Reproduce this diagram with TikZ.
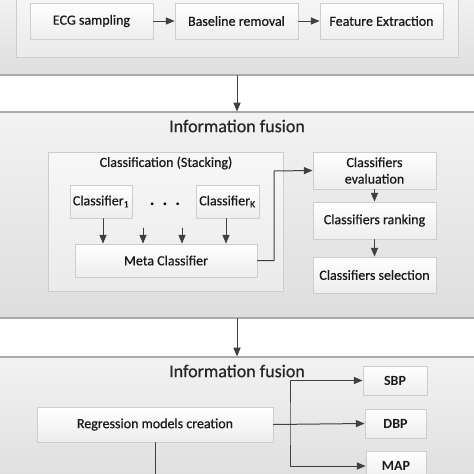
\documentclass[tikz,border=0pt]{standalone}
\usepackage{fontspec}
\setmainfont{Carlito}
\newfontfamily\heavyfont{Carlito}[FakeBold=0.6]
\usetikzlibrary{arrows}
\definecolor{edge}{RGB}{64,64,64}
\definecolor{rim}{RGB}{170,170,170}
\definecolor{boxrim}{RGB}{205,205,205}

\tikzset{
  panel/.style={draw=rim, line width=1.2pt, top color=black!5, bottom color=black!13, inner sep=0pt},
  subpanel/.style={draw=boxrim, line width=1pt, top color=black!3, bottom color=black!8, inner sep=0pt},
  procbox/.style={draw=boxrim, line width=1pt, top color=white, bottom color=black!7, inner sep=0pt,
    align=center, text=black!90, font=\fontsize{14}{16.5}\heavyfont},
  boxtext/.style={font=\fontsize{14}{16.5}\heavyfont, text=black!90, inner sep=0pt},
  titletext/.style={font=\fontsize{18}{20}\heavyfont, text=black!85},
  flow/.style={->, draw=edge, line width=1pt}
}

\begin{document}
\begin{tikzpicture}[line cap=round,line join=round,>=triangle 45,x=1pt,y=-1pt]
    \useasboundingbox (0,0) rectangle (474,474);
    \clip (0,0) rectangle (474,474);
    \fill[white] (0,0) rectangle (474,474);
    % preprocessing
    \node[panel, minimum width=480, minimum height=80] (prep) at (237,35) {};
    \node[subpanel, minimum width=442, minimum height=66] (prepin) at (237,24) {};
    \node[procbox, minimum width=123, minimum height=36] (ecg) at (91.5,21) {ECG sampling};
    \node[procbox, minimum width=123, minimum height=36] (base) at (236.5,21) {Baseline removal};
    \node[procbox, minimum width=123, minimum height=36] (feat) at (381.5,21) {Feature Extraction};
    \draw[flow] (ecg) -- (base);
    \draw[flow] (base) -- (feat);
    % classification
    \node[panel, minimum width=480, minimum height=206] (fusA) at (237,215) {};
    \node[titletext] (titleA) at (237,126) {Information fusion};
    \node[subpanel, minimum width=235, minimum height=139] (stack) at (165.5,221.5) {};
    \node[boxtext] (stacktitle) at (166,163) {Classification (Stacking)};
    \node[procbox, minimum width=62, minimum height=33] (clf1) at (101,201.5) {Classifier\textsubscript{1}};
    \node[procbox, minimum width=63, minimum height=33] (clfk) at (227.5,201.5) {Classifier\textsubscript{K}};
    \node[font=\fontsize{18}{18}\selectfont\bfseries] (dots) at (165,204) {.\hspace{8pt}.\hspace{8pt}.};
    \node[procbox, minimum width=182, minimum height=33] (meta) at (166,260.5) {Meta Classifier};
    \coordinate (in2) at (143,228);
    \coordinate (in3) at (182,228);
    \draw[flow] (clf1.south -| 103,0) -- (meta.north -| 103,0);
    \draw[flow] (in2) -- (in2 |- meta.north);
    \draw[flow] (in3) -- (in3 |- meta.north);
    \draw[flow] (clfk.south -| 226,0) -- (meta.north -| 226,0);
    \node[procbox, minimum width=123, minimum height=37, text width=118] (eval) at (374.5,170.5) {Classifiers\\evaluation};
    \node[procbox, minimum width=123, minimum height=37] (rank) at (374.5,220.5) {Classifiers ranking};
    \node[procbox, minimum width=123, minimum height=36] (sel) at (374.5,275) {Classifiers selection};
    \coordinate (bend) at (274,171);
    \draw[flow] (meta.east) -| (bend) -- (eval.west);
    \draw[flow] (eval) -- (rank);
    \draw[flow] (rank) -- (sel);
    % regression
    \node[panel, minimum width=480, minimum height=130] (fusB) at (237,422) {};
    \node[titletext] (titleB) at (237,371) {Information fusion};
    \node[procbox, minimum width=236, minimum height=35] (reg) at (155,424.5) {Regression models creation};
    \node[procbox, minimum width=64, minimum height=29, font=\fontsize{14}{16}\selectfont\bfseries] (sbp) at (395,380.5) {SBP};
    \node[procbox, minimum width=61, minimum height=29, font=\fontsize{14}{16}\selectfont\bfseries] (dbp) at (395.5,423.5) {DBP};
    \node[procbox, minimum width=60, minimum height=30, font=\fontsize{14}{16}\selectfont\bfseries] (map) at (396,466) {MAP};
    \coordinate (split) at (290,424);
    \draw[flow] (reg.east) -- (dbp.west);
    \draw[flow,<->] (sbp.west) -| (split) |- (map.west);
    \draw[draw=edge, line width=1pt] (reg.south) -- ++(0,40);
    % links between stages
    \draw[flow] (prep.south) -- (fusA.north);
    \draw[flow] (fusA.south) -- (fusB.north);
\end{tikzpicture}
\end{document}
